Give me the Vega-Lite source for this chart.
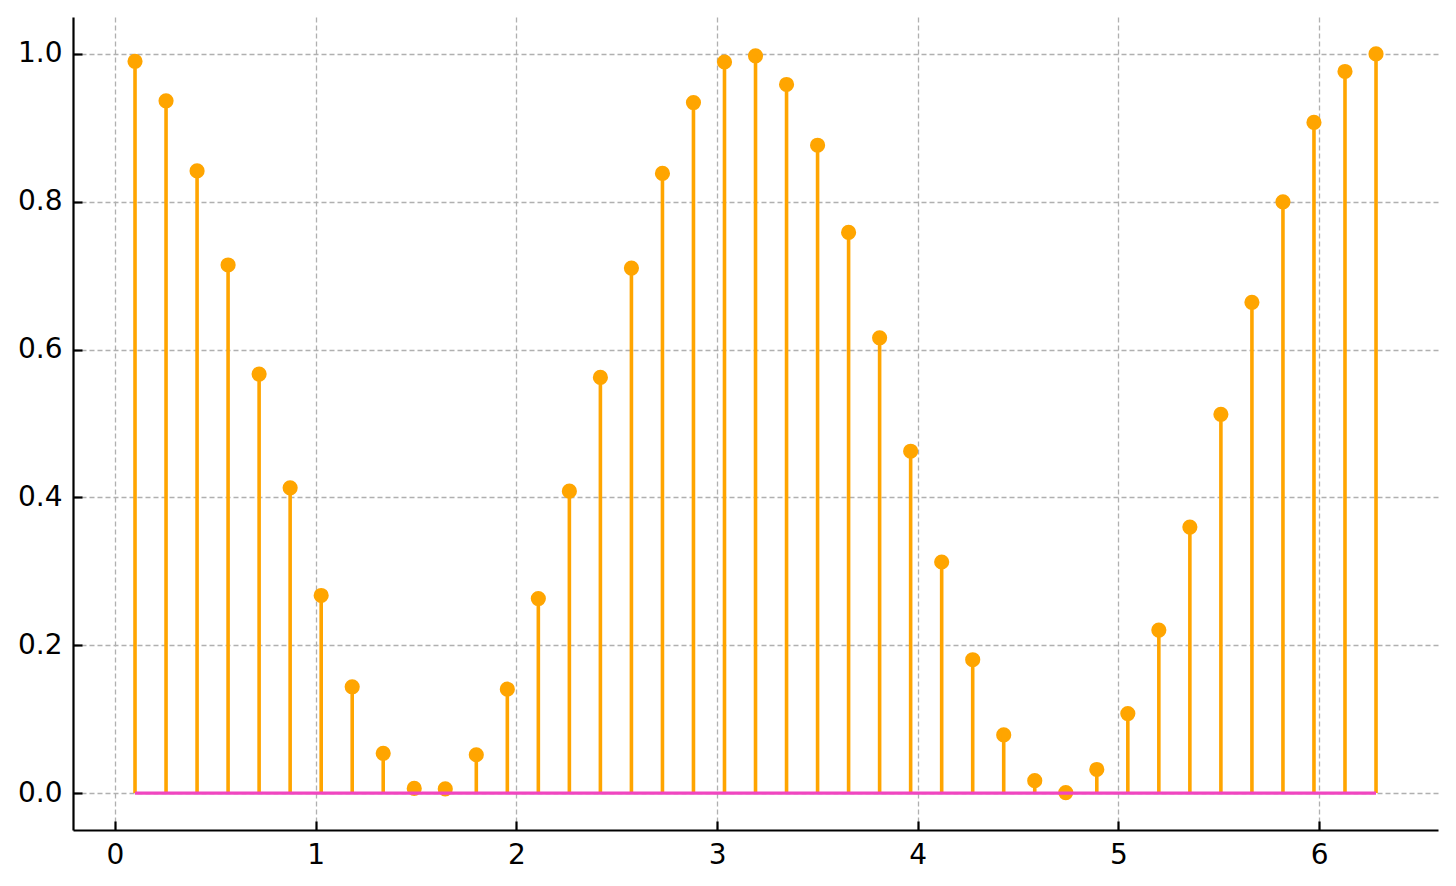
{
  "$schema": "https://vega.github.io/schema/vega-lite/v6.json",
  "width": 1365,
  "height": 813,
  "autosize": {"type": "none"},
  "padding": {"left": 73, "top": 17, "right": 18, "bottom": 56},
  "background": "white",
  "config": {
    "view": {"stroke": null},
    "axis": {
      "labelFont": "DejaVu Sans",
      "labelFontSize": 28,
      "labelColor": "black",
      "domainColor": "black",
      "domainWidth": 2.2,
      "tickColor": "black",
      "tickWidth": 2.2,
      "tickSize": -9,
      "labelPadding": 20,
      "grid": true,
      "gridColor": "#b0b0b0",
      "gridDash": [5, 3],
      "gridWidth": 1.3,
      "title": null
    }
  },
  "data": {
    "values": [
      {"x": 0.1000, "y": 0.9901},
      {"x": 0.2546, "y": 0.9366},
      {"x": 0.4092, "y": 0.8418},
      {"x": 0.5637, "y": 0.7145},
      {"x": 0.7183, "y": 0.5669},
      {"x": 0.8729, "y": 0.4130},
      {"x": 1.0275, "y": 0.2673},
      {"x": 1.1821, "y": 0.1438},
      {"x": 1.3366, "y": 0.0538},
      {"x": 1.4912, "y": 0.0063},
      {"x": 1.6458, "y": 0.0056},
      {"x": 1.8004, "y": 0.0518},
      {"x": 1.9550, "y": 0.1405},
      {"x": 2.1095, "y": 0.2632},
      {"x": 2.2641, "y": 0.4085},
      {"x": 2.4187, "y": 0.5623},
      {"x": 2.5733, "y": 0.7103},
      {"x": 2.7279, "y": 0.8384},
      {"x": 2.8824, "y": 0.9343},
      {"x": 3.0370, "y": 0.9891},
      {"x": 3.1916, "y": 0.9975},
      {"x": 3.3462, "y": 0.9587},
      {"x": 3.5008, "y": 0.8765},
      {"x": 3.6553, "y": 0.7585},
      {"x": 3.8099, "y": 0.6160},
      {"x": 3.9645, "y": 0.4625},
      {"x": 4.1191, "y": 0.3126},
      {"x": 4.2737, "y": 0.1804},
      {"x": 4.4282, "y": 0.0786},
      {"x": 4.5828, "y": 0.0167},
      {"x": 4.7374, "y": 0.0006},
      {"x": 4.8920, "y": 0.0319},
      {"x": 5.0466, "y": 0.1076},
      {"x": 5.2011, "y": 0.2205},
      {"x": 5.3557, "y": 0.3598},
      {"x": 5.5103, "y": 0.5125},
      {"x": 5.6649, "y": 0.6640},
      {"x": 5.8195, "y": 0.7999},
      {"x": 5.9740, "y": 0.9074},
      {"x": 6.1286, "y": 0.9763},
      {"x": 6.2832, "y": 1.0000}
    ]
  },
  "encoding": {
    "x": {
      "field": "x",
      "type": "quantitative",
      "scale": {"domain": [-0.209, 6.592], "nice": false, "zero": false},
      "axis": {"values": [0, 1, 2, 3, 4, 5, 6], "format": "d"}
    }
  },
  "layer": [
    {
      "mark": {"type": "point", "filled": true, "color": "#ffa500", "opacity": 1, "size": 230, "shape": "circle"},
      "encoding": {
        "y": {
          "field": "y",
          "type": "quantitative",
          "scale": {"domain": [-0.05, 1.05], "nice": false, "zero": false},
          "axis": {"values": [0, 0.2, 0.4, 0.6, 0.8, 1.0], "format": ".1f"}
        }
      }
    },
    {
      "mark": {"type": "rule", "color": "#ffa500", "strokeWidth": 3.6},
      "encoding": {
        "y": {"field": "y", "type": "quantitative"},
        "y2": {"datum": 0}
      }
    },
    {
      "mark": {"type": "rule", "color": "#f046c0", "strokeWidth": 3.2},
      "encoding": {
        "x": {"aggregate": "min", "field": "x", "type": "quantitative"},
        "x2": {"aggregate": "max", "field": "x"},
        "y": {"datum": 0, "type": "quantitative"}
      }
    }
  ]
}
